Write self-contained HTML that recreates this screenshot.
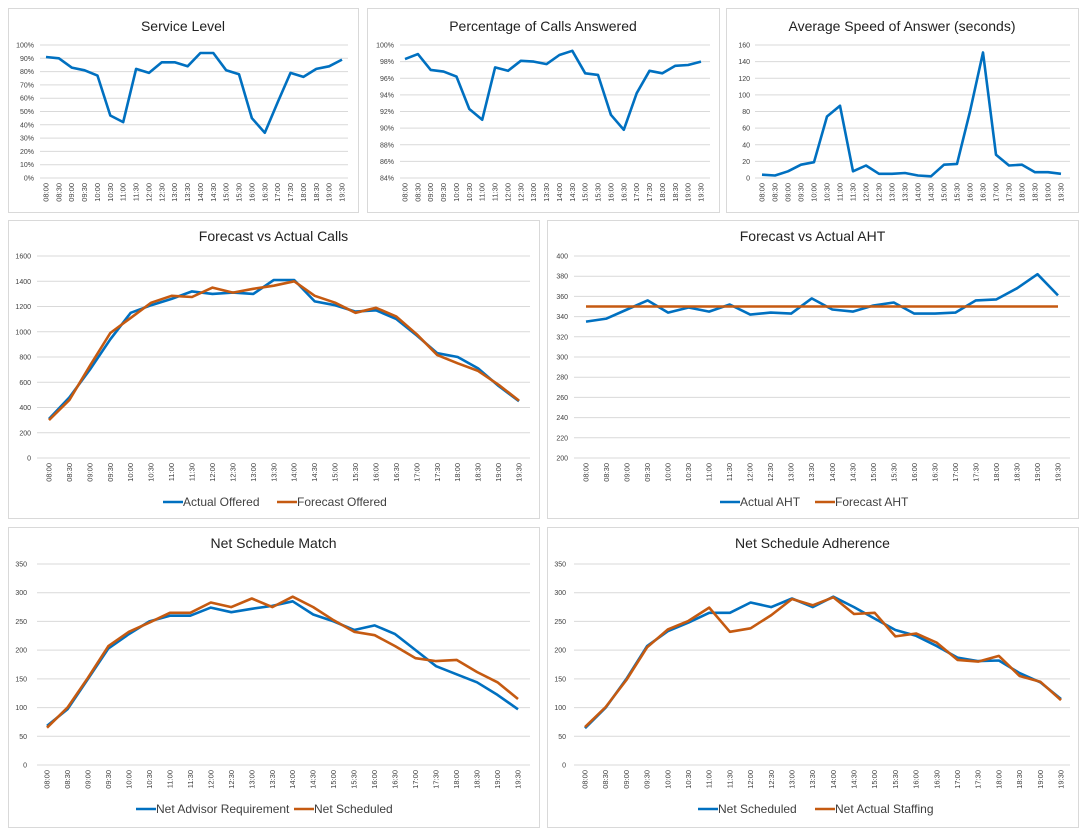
<!DOCTYPE html>
<html><head><meta charset="utf-8"><style>
body{margin:0;background:#fff;width:1087px;height:833px;overflow:hidden;font-family:"Liberation Sans",sans-serif}
</style></head><body>
<svg id="s" width="1087" height="833" xmlns="http://www.w3.org/2000/svg" font-family="Liberation Sans, sans-serif"></svg>
<script>
const T=["08:00","08:30","09:00","09:30","10:00","10:30","11:00","11:30","12:00","12:30","13:00","13:30","14:00","14:30","15:00","15:30","16:00","16:30","17:00","17:30","18:00","18:30","19:00","19:30"];
const B="#0070C0",O="#C55A11";
let h="";
function chart(c){
 const [px,py,pw,ph]=c.box;
 h+=`<rect x="${px+.5}" y="${py+.5}" width="${pw}" height="${ph}" fill="#fff" stroke="#d9d9d9"/>`;
 h+=`<text x="${px+pw/2}" y="${c.ty}" font-size="14" text-anchor="middle" fill="#222">${c.title}</text>`;
 const n=c.ticks.length;
 for(let i=0;i<n;i++){
  const y=c.y1+(c.y0-c.y1)*i/(n-1);
  h+=`<line x1="${c.gx0}" x2="${c.gx1}" y1="${y}" y2="${y}" stroke="#d9d9d9" stroke-width="1"/>`;
  h+=`<text x="${c.lx}" y="${y+2.5}" font-size="7" text-anchor="end" fill="#404040">${c.ticks[n-1-i]}</text>`;
 }
 const X=i=>c.x0+(c.x1-c.x0)*i/23;
 const Y=v=>c.y0-(v-c.vmin)/(c.vmax-c.vmin)*(c.y0-c.y1);
 T.forEach((t,i)=>{h+=`<text transform="translate(${X(i)+2.5},${c.y0+5}) rotate(-90)" font-size="7.5" text-anchor="end" fill="#404040">${t}</text>`});
 c.series.forEach(s=>{
  h+=`<polyline fill="none" stroke="${s.c}" stroke-width="2.6" stroke-linejoin="round" points="${s.d.map((v,i)=>X(i).toFixed(1)+","+Y(v).toFixed(1)).join(" ")}"/>`;
 });
 if(c.legend){
  let lx=c.legend.x;
  c.series.forEach((s,k)=>{
   h+=`<line x1="${lx}" x2="${lx+20}" y1="${c.legend.y-4}" y2="${c.legend.y-4}" stroke="${s.c}" stroke-width="2.6"/>`;
   h+=`<text x="${lx+20}" y="${c.legend.y}" font-size="12" fill="#404040">${s.n}</text>`;
   lx+=c.legend.gap;
  });
 }
}
const pct=[];for(let i=0;i<=10;i++)pct.push(i*10+"%");
chart({box:[8,8,350,204],title:"Service Level",ty:31,gx0:40,gx1:348,lx:34,y0:178,y1:45,ticks:pct,vmin:0,vmax:100,x0:46,x1:342,
 series:[{c:B,d:[91,90,83,81,77,47,42,82,79,87,87,84,94,94,81,78,45,34,57,79,76,82,84,89]}]});
const p2=[];for(let v=84;v<=100;v+=2)p2.push(v+"%");
chart({box:[367,8,352,204],title:"Percentage of Calls Answered",ty:31,gx0:400,gx1:710,lx:394,y0:178,y1:45,ticks:p2,vmin:84,vmax:100,x0:405,x1:701,
 series:[{c:B,d:[98.3,98.9,97,96.8,96.2,92.3,91,97.3,96.9,98.1,98,97.7,98.8,99.3,96.6,96.4,91.6,89.8,94.2,96.9,96.6,97.5,97.6,98]}]});
const p3=[];for(let v=0;v<=160;v+=20)p3.push(v);
chart({box:[726,8,352,204],title:"Average Speed of Answer (seconds)",ty:31,gx0:755,gx1:1070,lx:750,y0:178,y1:45,ticks:p3,vmin:0,vmax:160,x0:762,x1:1061,
 series:[{c:B,d:[4,3,8,16,19,74,87,8,15,5,5,6,3,2,16,17,80,151,28,15,16,7,7,5]}]});
const p4=[];for(let v=0;v<=1600;v+=200)p4.push(v);
chart({box:[8,220,531,298],title:"Forecast vs Actual Calls",ty:241,gx0:37,gx1:530,lx:31,y0:458,y1:256,ticks:p4,vmin:0,vmax:1600,x0:49,x1:519,
 legend:{x:163,y:506,gap:114},
 series:[{c:B,n:"Actual Offered",d:[310,480,700,940,1150,1210,1260,1320,1300,1310,1300,1410,1410,1240,1210,1160,1170,1100,970,830,800,710,570,450]},
 {c:O,n:"Forecast Offered",d:[300,460,730,990,1110,1230,1285,1275,1350,1310,1340,1365,1400,1285,1230,1150,1190,1120,980,815,750,690,580,455]}]});
const p5=[];for(let v=200;v<=400;v+=20)p5.push(v);
chart({box:[547,220,531,298],title:"Forecast vs Actual AHT",ty:241,gx0:574,gx1:1070,lx:568,y0:458,y1:256,ticks:p5,vmin:200,vmax:400,x0:586,x1:1058,
 legend:{x:720,y:506,gap:95},
 series:[{c:B,n:"Actual AHT",d:[335,338,347,356,344,349,345,352,342,344,343,358,347,345,351,354,343,343,344,356,357,368,382,361]},
 {c:O,n:"Forecast AHT",d:Array(24).fill(350)}]});
const p6=[];for(let v=0;v<=350;v+=50)p6.push(v);
chart({box:[8,527,531,300],title:"Net Schedule Match",ty:548,gx0:37,gx1:530,lx:27,y0:765,y1:564,ticks:p6,vmin:0,vmax:350,x0:47,x1:518,
 legend:{x:136,y:813,gap:158},
 series:[{c:B,n:"Net Advisor Requirement",d:[68,97,150,203,228,250,260,260,274,266,272,277,285,262,250,235,243,228,200,172,158,144,122,97]},
 {c:O,n:"Net Scheduled",d:[65,100,152,207,232,248,265,265,283,275,290,275,293,275,252,232,226,207,186,181,183,162,144,115]}]});
chart({box:[547,527,531,300],title:"Net Schedule Adherence",ty:548,gx0:574,gx1:1070,lx:566,y0:765,y1:564,ticks:p6,vmin:0,vmax:350,x0:585,x1:1061,
 legend:{x:698,y:813,gap:117},
 series:[{c:B,n:"Net Scheduled",d:[64,100,150,207,233,248,265,265,283,275,290,275,293,275,255,235,225,207,187,181,182,160,144,115]},
 {c:O,n:"Net Actual Staffing",d:[66,101,148,205,236,251,274,232,238,261,289,278,292,263,265,224,229,213,183,180,190,155,145,113]}]});
document.getElementById("s").innerHTML=h;
</script>
</body></html>
